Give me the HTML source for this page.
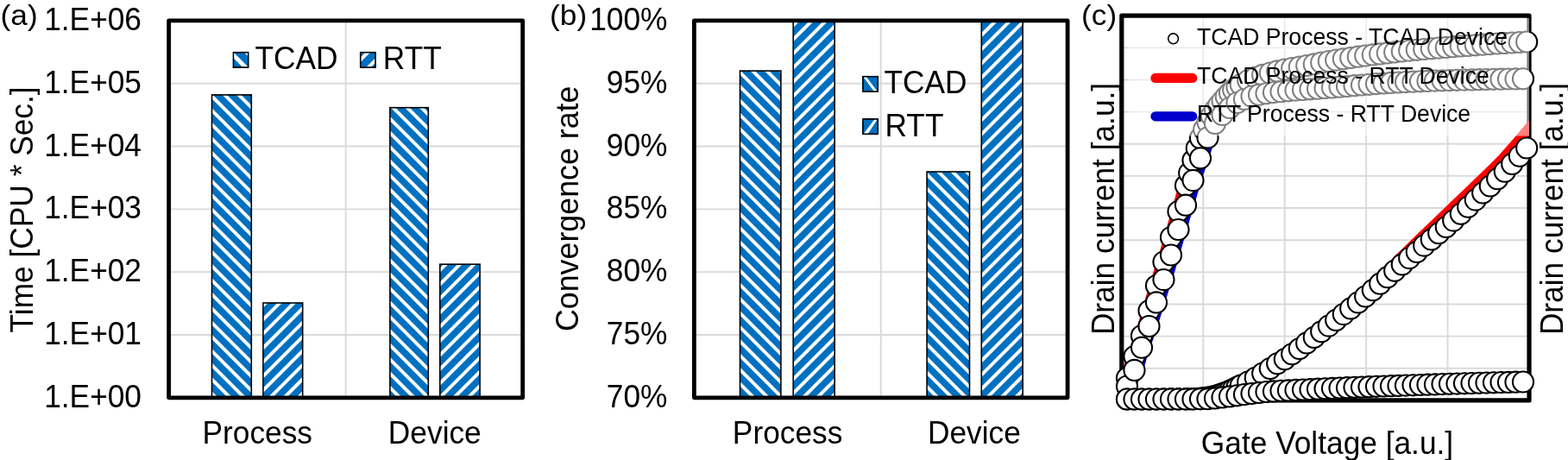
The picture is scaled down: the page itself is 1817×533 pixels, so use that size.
<!DOCTYPE html>
<html><head><meta charset="utf-8"><title>chart</title><style>html,body{margin:0;padding:0;background:#fff;}svg{display:block;}</style></head><body>
<svg width="1817" height="533" viewBox="0 0 1817 533" font-family='"Liberation Sans", Arial, sans-serif' fill="#000">
<defs>
<pattern id="tc" patternUnits="userSpaceOnUse" width="11.597" height="11.597" patternTransform="rotate(-45) translate(0.00,0)"><rect x="0" y="0" width="11.597" height="11.597" fill="#0070C0"/><rect x="0" y="-1" width="3.943" height="13.597" fill="#fff"/></pattern>
<pattern id="rt" patternUnits="userSpaceOnUse" width="11.597" height="11.597" patternTransform="rotate(45) translate(0.00,0)"><rect x="0" y="0" width="11.597" height="11.597" fill="#0070C0"/><rect x="0" y="-1" width="3.943" height="13.597" fill="#fff"/></pattern>
<pattern id="rtb" patternUnits="userSpaceOnUse" width="11.597" height="11.597" patternTransform="rotate(45) translate(-3.90,0)"><rect x="0" y="0" width="11.597" height="11.597" fill="#0070C0"/><rect x="0" y="-1" width="3.943" height="13.597" fill="#fff"/></pattern>
<clipPath id="pc"><rect x="1299.8" y="18.2" width="472.2" height="445.8"/></clipPath>
</defs>
<rect width="1817" height="533" fill="#fff"/>
<line x1="195.6" y1="387.98" x2="605.7" y2="387.98" stroke="#D9D9D9" stroke-width="1.9"/>
<line x1="195.6" y1="315.17" x2="605.7" y2="315.17" stroke="#D9D9D9" stroke-width="1.9"/>
<line x1="195.6" y1="242.35" x2="605.7" y2="242.35" stroke="#D9D9D9" stroke-width="1.9"/>
<line x1="195.6" y1="169.53" x2="605.7" y2="169.53" stroke="#D9D9D9" stroke-width="1.9"/>
<line x1="195.6" y1="96.72" x2="605.7" y2="96.72" stroke="#D9D9D9" stroke-width="1.9"/>
<line x1="400.65" y1="23.9" x2="400.65" y2="460.8" stroke="#D9D9D9" stroke-width="1.9"/>
<rect x="245.50" y="109.90" width="45.80" height="350.90" fill="url(#tc)" stroke="#000" stroke-width="1.6"/>
<rect x="304.90" y="351.00" width="45.80" height="109.80" fill="url(#rt)" stroke="#000" stroke-width="1.6"/>
<rect x="451.90" y="124.70" width="44.40" height="336.10" fill="url(#tc)" stroke="#000" stroke-width="1.6"/>
<rect x="509.80" y="306.20" width="46.30" height="154.60" fill="url(#rt)" stroke="#000" stroke-width="1.6"/>
<rect x="195.6" y="23.9" width="410.10" height="436.90" fill="none" stroke="#000" stroke-width="4.8" stroke-linejoin="round"/>
<svg x="269.50" y="59.80" width="19.1" height="19.1" viewBox="0 0 19.1 19.1" overflow="hidden">
<rect width="19.1" height="19.1" fill="#0070C0"/>
<polygon points="0,-0.3 19.1,18.8 19.1,25.6 0,6.5" fill="#fff"/>
<polygon points="12.5,0 19.1,0 19.1,6.6" fill="#fff"/>
<rect x="0.85" y="0.85" width="17.4" height="17.4" fill="none" stroke="#000" stroke-width="1.7"/>
</svg>
<text transform="translate(295.50 80.00) scale(1 1.04)" font-size="35.3" text-anchor="start">TCAD</text>
<svg x="416.80" y="59.80" width="19.1" height="19.1" viewBox="0 0 19.1 19.1" overflow="hidden">
<rect width="19.1" height="19.1" fill="#0070C0"/>
<polygon points="7.5,0 13.3,0 0,13.3 0,7.5" fill="#fff"/>
<polygon points="19.1,6.4 19.1,12.1 12.1,19.1 6.4,19.1" fill="#fff"/>
<rect x="0.85" y="0.85" width="17.4" height="17.4" fill="none" stroke="#000" stroke-width="1.7"/>
</svg>
<text transform="translate(443.80 80.00) scale(1 1.04)" font-size="35.3" text-anchor="start">RTT</text>
<text transform="translate(164.00 471.80) scale(1 1.04)" font-size="35.3" text-anchor="end">1.E+00</text>
<text transform="translate(164.00 398.98) scale(1 1.04)" font-size="35.3" text-anchor="end">1.E+01</text>
<text transform="translate(164.00 326.17) scale(1 1.04)" font-size="35.3" text-anchor="end">1.E+02</text>
<text transform="translate(164.00 253.35) scale(1 1.04)" font-size="35.3" text-anchor="end">1.E+03</text>
<text transform="translate(164.00 180.53) scale(1 1.04)" font-size="35.3" text-anchor="end">1.E+04</text>
<text transform="translate(164.00 107.72) scale(1 1.04)" font-size="35.3" text-anchor="end">1.E+05</text>
<text transform="translate(164.00 34.90) scale(1 1.04)" font-size="35.3" text-anchor="end">1.E+06</text>
<text transform="translate(0.50 28.50) scale(1 0.925)" font-size="35.3" text-anchor="start">(a)</text>
<text transform="translate(298.20 514.00) scale(1 1.04)" font-size="35.3" text-anchor="middle">Process</text>
<text transform="translate(503.80 514.00) scale(1 1.04)" font-size="35.3" text-anchor="middle">Device</text>
<text transform="translate(38.20 242.90) rotate(-90) scale(1 1.04)" font-size="35.3" text-anchor="middle">Time [CPU * Sec.]</text>
<line x1="804.4" y1="387.98" x2="1237.1" y2="387.98" stroke="#D9D9D9" stroke-width="1.9"/>
<line x1="804.4" y1="315.17" x2="1237.1" y2="315.17" stroke="#D9D9D9" stroke-width="1.9"/>
<line x1="804.4" y1="242.35" x2="1237.1" y2="242.35" stroke="#D9D9D9" stroke-width="1.9"/>
<line x1="804.4" y1="169.53" x2="1237.1" y2="169.53" stroke="#D9D9D9" stroke-width="1.9"/>
<line x1="804.4" y1="96.72" x2="1237.1" y2="96.72" stroke="#D9D9D9" stroke-width="1.9"/>
<line x1="1020.75" y1="23.9" x2="1020.75" y2="460.8" stroke="#D9D9D9" stroke-width="1.9"/>
<rect x="857.50" y="82.10" width="47.40" height="378.70" fill="url(#tc)" stroke="#000" stroke-width="1.6"/>
<rect x="919.20" y="23.90" width="48.00" height="436.90" fill="url(#rtb)" stroke="#000" stroke-width="1.6"/>
<rect x="1074.10" y="199.00" width="49.40" height="261.80" fill="url(#tc)" stroke="#000" stroke-width="1.6"/>
<rect x="1137.30" y="23.90" width="47.90" height="436.90" fill="url(#rtb)" stroke="#000" stroke-width="1.6"/>
<rect x="804.4" y="23.9" width="432.70" height="436.90" fill="none" stroke="#000" stroke-width="4.8" stroke-linejoin="round"/>
<svg x="999.10" y="87.80" width="19.1" height="19.1" viewBox="0 0 19.1 19.1" overflow="hidden">
<rect width="19.1" height="19.1" fill="#0070C0"/>
<polygon points="0.36,0 3.7,0 18.5,19.1 14.5,19.1" fill="#fff"/>
<polygon points="0,15.5 0,19.1 3.0,19.1" fill="#fff"/>
<polygon points="16.5,0 19.1,0 19.1,2.5" fill="#fff"/>
<rect x="0.85" y="0.85" width="17.4" height="17.4" fill="none" stroke="#000" stroke-width="1.7"/>
</svg>
<text transform="translate(1024.50 108.40) scale(1 1.04)" font-size="35.3" text-anchor="start">TCAD</text>
<svg x="999.10" y="137.10" width="19.1" height="19.1" viewBox="0 0 19.1 19.1" overflow="hidden">
<rect width="19.1" height="19.1" fill="#0070C0"/>
<polygon points="0.6,19.1 5.9,19.1 18.5,0 15.3,0" fill="#fff"/>
<polygon points="0,0 4,0 0,4" fill="#fff"/>
<rect x="0.85" y="0.85" width="17.4" height="17.4" fill="none" stroke="#000" stroke-width="1.7"/>
</svg>
<text transform="translate(1025.50 158.00) scale(1 1.04)" font-size="35.3" text-anchor="start">RTT</text>
<text transform="translate(773.50 471.80) scale(1 1.04)" font-size="35.3" text-anchor="end">70%</text>
<text transform="translate(773.50 398.98) scale(1 1.04)" font-size="35.3" text-anchor="end">75%</text>
<text transform="translate(773.50 326.17) scale(1 1.04)" font-size="35.3" text-anchor="end">80%</text>
<text transform="translate(773.50 253.35) scale(1 1.04)" font-size="35.3" text-anchor="end">85%</text>
<text transform="translate(773.50 180.53) scale(1 1.04)" font-size="35.3" text-anchor="end">90%</text>
<text transform="translate(773.50 107.72) scale(1 1.04)" font-size="35.3" text-anchor="end">95%</text>
<text transform="translate(773.50 34.90) scale(1 1.04)" font-size="35.3" text-anchor="end">100%</text>
<text transform="translate(637.00 28.50) scale(1 0.925)" font-size="35.3" text-anchor="start">(b)</text>
<text transform="translate(912.60 514.00) scale(1 1.04)" font-size="35.3" text-anchor="middle">Process</text>
<text transform="translate(1128.90 514.00) scale(1 1.04)" font-size="35.3" text-anchor="middle">Device</text>
<text transform="translate(669.50 241.80) rotate(-90) scale(1 1.04)" font-size="35.8" text-anchor="middle">Convergence rate</text>
<line x1="1299.8" y1="55.34" x2="1772.0" y2="55.34" stroke="#D9D9D9" stroke-width="1.9"/>
<line x1="1299.8" y1="92.48" x2="1772.0" y2="92.48" stroke="#D9D9D9" stroke-width="1.9"/>
<line x1="1299.8" y1="129.62" x2="1772.0" y2="129.62" stroke="#D9D9D9" stroke-width="1.9"/>
<line x1="1299.8" y1="166.77" x2="1772.0" y2="166.77" stroke="#D9D9D9" stroke-width="1.9"/>
<line x1="1299.8" y1="203.91" x2="1772.0" y2="203.91" stroke="#D9D9D9" stroke-width="1.9"/>
<line x1="1299.8" y1="241.05" x2="1772.0" y2="241.05" stroke="#D9D9D9" stroke-width="1.9"/>
<line x1="1299.8" y1="278.19" x2="1772.0" y2="278.19" stroke="#D9D9D9" stroke-width="1.9"/>
<line x1="1299.8" y1="315.33" x2="1772.0" y2="315.33" stroke="#D9D9D9" stroke-width="1.9"/>
<line x1="1299.8" y1="352.47" x2="1772.0" y2="352.47" stroke="#D9D9D9" stroke-width="1.9"/>
<line x1="1299.8" y1="389.62" x2="1772.0" y2="389.62" stroke="#D9D9D9" stroke-width="1.9"/>
<line x1="1299.8" y1="426.76" x2="1772.0" y2="426.76" stroke="#D9D9D9" stroke-width="1.9"/>
<line x1="1394.24" y1="18.2" x2="1394.24" y2="463.9" stroke="#D9D9D9" stroke-width="1.9"/>
<line x1="1488.68" y1="18.2" x2="1488.68" y2="463.9" stroke="#D9D9D9" stroke-width="1.9"/>
<line x1="1583.12" y1="18.2" x2="1583.12" y2="463.9" stroke="#D9D9D9" stroke-width="1.9"/>
<line x1="1677.56" y1="18.2" x2="1677.56" y2="463.9" stroke="#D9D9D9" stroke-width="1.9"/>
<rect x="1299.8" y="18.2" width="472.20" height="445.70" fill="none" stroke="#000" stroke-width="5.2" stroke-linejoin="round"/>
<g clip-path="url(#pc)" fill="none" stroke-linejoin="round" stroke-linecap="round">
<polyline points="1297.5,456.2 1298.7,452.6 1299.9,448.9 1301.1,445.3 1302.3,441.7 1303.5,438.1 1304.6,434.6 1305.8,431.0 1307.0,427.5 1308.2,424.0 1309.4,420.5 1310.6,417.1 1311.8,413.6 1313.0,410.2 1314.2,406.9 1315.4,403.7 1316.5,400.4 1317.7,397.1 1318.9,393.7 1320.1,390.2 1321.3,386.5 1322.5,382.6 1323.7,378.5 1324.9,374.4 1326.1,370.2 1327.3,366.0 1328.5,361.9 1329.6,357.8 1330.8,353.7 1332.0,349.6 1333.2,345.5 1334.4,341.4 1335.6,337.4 1336.8,333.4 1338.0,329.4 1339.2,325.5 1340.4,321.7 1341.5,317.9 1342.7,314.1 1343.9,310.2 1345.1,306.4 1346.3,302.5 1347.5,298.6 1348.7,294.6 1349.9,290.6 1351.1,286.7 1352.3,282.6 1353.5,278.6 1354.6,274.5 1355.8,270.4 1357.0,266.2 1358.2,262.0 1359.4,257.8 1360.6,253.5 1361.8,249.3 1363.0,245.1 1364.2,240.9 1365.4,236.7 1366.5,232.4 1367.7,228.2 1368.9,224.0 1370.1,219.8 1371.3,215.7 1372.5,211.5 1373.7,207.4 1374.9,203.3 1376.1,199.3 1377.3,195.1 1378.5,191.0 1379.6,186.9 1380.8,182.9 1382.0,178.9 1383.2,175.0 1384.4,171.3 1385.6,167.8 1386.8,164.5 1388.0,161.3 1389.2,158.3 1390.4,155.5 1391.5,152.7 1392.7,150.1 1393.9,147.7 1395.1,145.3 1396.3,143.0 1397.5,140.8 1398.7,138.6 1399.9,136.6 1401.1,134.5 1402.3,132.5 1403.5,130.6 1404.6,128.7 1405.8,126.9 1407.0,125.3 1408.2,123.7 1409.4,122.3 1410.6,120.9 1411.8,119.5 1413.0,118.1 1414.2,116.7 1415.4,115.3 1416.5,113.9 1417.7,112.5 1418.9,111.1 1420.1,109.9 1421.3,108.7 1422.5,107.6 1423.7,106.6 1424.9,105.6 1426.1,104.7 1427.3,103.8 1428.5,103.0 1429.6,102.1 1430.8,101.3 1432.0,100.4 1433.2,99.6 1434.4,98.7 1435.6,97.9 1436.8,97.1 1438.0,96.4 1439.2,95.7 1440.4,95.0 1441.5,94.4 1442.7,93.8 1443.9,93.2 1445.1,92.6 1446.3,92.1 1447.5,91.6 1448.7,91.1 1449.9,90.6 1451.1,90.1 1452.3,89.7 1453.5,89.3 1454.6,88.9 1455.8,88.5 1457.0,88.1 1458.2,87.7 1459.4,87.4 1460.6,87.0 1461.8,86.6 1463.0,86.3 1464.2,86.0 1465.4,85.6 1466.5,85.3 1467.7,85.0 1468.9,84.7 1470.1,84.3 1471.3,84.0 1472.5,83.7 1473.7,83.4 1474.9,83.1 1476.1,82.8 1477.3,82.5 1478.5,82.2 1479.6,81.9 1480.8,81.7 1482.0,81.4 1483.2,81.1 1484.4,80.9 1485.6,80.7 1486.8,80.4 1488.0,80.2 1489.2,80.0 1490.4,79.7 1491.5,79.5 1492.7,79.3 1493.9,79.1 1495.1,78.9 1496.3,78.7 1497.5,78.5 1498.7,78.3 1499.9,78.1 1501.1,77.9 1502.3,77.7 1503.5,77.5 1504.6,77.3 1505.8,77.1 1507.0,76.9 1508.2,76.7 1509.4,76.5 1510.6,76.3 1511.8,76.0 1513.0,75.8 1514.2,75.6 1515.4,75.4 1516.5,75.1 1517.7,74.9 1518.9,74.6 1520.1,74.4 1521.3,74.2 1522.5,73.9 1523.7,73.7 1524.9,73.4 1526.1,73.2 1527.3,72.9 1528.5,72.7 1529.6,72.5 1530.8,72.2 1532.0,72.0 1533.2,71.8 1534.4,71.5 1535.6,71.3 1536.8,71.1 1538.0,70.9 1539.2,70.7 1540.4,70.5 1541.5,70.3 1542.7,70.1 1543.9,69.9 1545.1,69.7 1546.3,69.5 1547.5,69.3 1548.7,69.1 1549.9,68.9 1551.1,68.8 1552.3,68.6 1553.5,68.4 1554.6,68.2 1555.8,68.0 1557.0,67.8 1558.2,67.7 1559.4,67.5 1560.6,67.3 1561.8,67.1 1563.0,66.9 1564.2,66.8 1565.4,66.6 1566.5,66.4 1567.7,66.2 1568.9,66.1 1570.1,65.9 1571.3,65.7 1572.5,65.6 1573.7,65.4 1574.9,65.2 1576.1,65.1 1577.3,64.9 1578.5,64.7 1579.6,64.6 1580.8,64.4 1582.0,64.3 1583.2,64.1 1584.4,63.9 1585.6,63.8 1586.8,63.6 1588.0,63.5 1589.2,63.3 1590.4,63.2 1591.5,63.0 1592.7,62.9 1593.9,62.7 1595.1,62.6 1596.3,62.4 1597.5,62.3 1598.7,62.1 1599.9,62.0 1601.1,61.9 1602.3,61.7 1603.5,61.6 1604.6,61.4 1605.8,61.3 1607.0,61.2 1608.2,61.0 1609.4,60.9 1610.6,60.8 1611.8,60.6 1613.0,60.5 1614.2,60.4 1615.4,60.2 1616.5,60.1 1617.7,60.0 1618.9,59.8 1620.1,59.7 1621.3,59.6 1622.5,59.5 1623.7,59.4 1624.9,59.2 1626.1,59.1 1627.3,59.0 1628.5,58.9 1629.6,58.8 1630.8,58.6 1632.0,58.5 1633.2,58.4 1634.4,58.3 1635.6,58.2 1636.8,58.1 1638.0,57.9 1639.2,57.8 1640.4,57.7 1641.5,57.6 1642.7,57.5 1643.9,57.4 1645.1,57.3 1646.3,57.2 1647.5,57.1 1648.7,57.0 1649.9,56.8 1651.1,56.7 1652.3,56.6 1653.5,56.5 1654.6,56.4 1655.8,56.3 1657.0,56.2 1658.2,56.1 1659.4,56.0 1660.6,55.9 1661.8,55.8 1663.0,55.7 1664.2,55.6 1665.4,55.5 1666.5,55.4 1667.7,55.3 1668.9,55.2 1670.1,55.1 1671.3,55.0 1672.5,54.9 1673.7,54.8 1674.9,54.7 1676.1,54.6 1677.3,54.5 1678.5,54.5 1679.6,54.4 1680.8,54.3 1682.0,54.2 1683.2,54.1 1684.4,54.0 1685.6,53.9 1686.8,53.8 1688.0,53.7 1689.2,53.6 1690.4,53.5 1691.5,53.4 1692.7,53.4 1693.9,53.3 1695.1,53.2 1696.3,53.1 1697.5,53.0 1698.7,52.9 1699.9,52.8 1701.1,52.7 1702.3,52.6 1703.5,52.6 1704.6,52.5 1705.8,52.4 1707.0,52.3 1708.2,52.2 1709.4,52.1 1710.6,52.0 1711.8,52.0 1713.0,51.9 1714.2,51.8 1715.4,51.7 1716.5,51.6 1717.7,51.5 1718.9,51.5 1720.1,51.4 1721.3,51.3 1722.5,51.2 1723.7,51.1 1724.9,51.1 1726.1,51.0 1727.3,50.9 1728.5,50.8 1729.6,50.7 1730.8,50.7 1732.0,50.6 1733.2,50.5 1734.4,50.4 1735.6,50.4 1736.8,50.3 1738.0,50.2 1739.2,50.1 1740.4,50.1 1741.5,50.0 1742.7,49.9 1743.9,49.8 1745.1,49.8 1746.3,49.7 1747.5,49.6 1748.7,49.5 1749.9,49.5 1751.1,49.4 1752.3,49.3 1753.5,49.3 1754.6,49.2 1755.8,49.1 1757.0,49.0 1758.2,49.0 1759.4,48.9 1760.6,48.8 1761.8,48.8 1763.0,48.7 1764.2,48.6 1765.4,48.6 1766.5,48.5 1767.7,48.4 1768.9,48.4 1770.1,48.3 1771.3,48.3 1772.5,48.2" stroke="#FF0000" stroke-width="11.3"/>
<polyline points="1297.5,455.8 1298.7,454.5 1299.9,453.1 1301.1,451.5 1302.3,449.7 1303.5,447.7 1304.6,445.5 1305.8,443.2 1307.0,440.7 1308.2,438.1 1309.4,435.3 1310.6,432.4 1311.8,429.4 1313.0,426.3 1314.2,422.8 1315.4,419.1 1316.5,415.3 1317.7,411.4 1318.9,407.6 1320.1,403.9 1321.3,400.3 1322.5,396.8 1323.7,393.4 1324.9,390.1 1326.1,386.7 1327.3,383.2 1328.5,379.7 1329.6,376.0 1330.8,372.2 1332.0,368.4 1333.2,364.4 1334.4,360.5 1335.6,356.6 1336.8,352.7 1338.0,348.9 1339.2,345.2 1340.4,341.5 1341.5,337.9 1342.7,334.3 1343.9,330.6 1345.1,326.9 1346.3,323.1 1347.5,319.2 1348.7,315.3 1349.9,311.3 1351.1,307.2 1352.3,303.2 1353.5,299.1 1354.6,295.0 1355.8,290.9 1357.0,286.8 1358.2,282.6 1359.4,278.4 1360.6,274.3 1361.8,270.2 1363.0,266.1 1364.2,262.1 1365.4,258.1 1366.5,254.1 1367.7,250.2 1368.9,246.2 1370.1,242.3 1371.3,238.3 1372.5,234.3 1373.7,230.3 1374.9,226.2 1376.1,222.1 1377.3,218.1 1378.5,214.1 1379.6,210.2 1380.8,206.5 1382.0,202.7 1383.2,199.1 1384.4,195.4 1385.6,191.9 1386.8,188.3 1388.0,184.8 1389.2,181.3 1390.4,177.8 1391.5,174.2 1392.7,170.7 1393.9,167.3 1395.1,164.1 1396.3,161.0 1397.5,158.3 1398.7,155.6 1399.9,153.1 1401.1,150.7 1402.3,148.4 1403.5,146.3 1404.6,144.3 1405.8,142.5 1407.0,140.9 1408.2,139.4 1409.4,138.0 1410.6,136.6 1411.8,135.3 1413.0,134.1 1414.2,132.8 1415.4,131.6 1416.5,130.4 1417.7,129.2 1418.9,128.1 1420.1,127.0 1421.3,126.0 1422.5,125.0 1423.7,124.1 1424.9,123.1 1426.1,122.2 1427.3,121.4 1428.5,120.6 1429.6,119.8 1430.8,119.1 1432.0,118.4 1433.2,117.8 1434.4,117.2 1435.6,116.7 1436.8,116.2 1438.0,115.6 1439.2,115.1 1440.4,114.6 1441.5,114.1 1442.7,113.6 1443.9,113.1 1445.1,112.6 1446.3,112.2 1447.5,111.7 1448.7,111.4 1449.9,111.1 1451.1,110.8 1452.3,110.5 1453.5,110.3 1454.6,110.0 1455.8,109.8 1457.0,109.6 1458.2,109.4 1459.4,109.1 1460.6,108.9 1461.8,108.8 1463.0,108.6 1464.2,108.4 1465.4,108.2 1466.5,108.0 1467.7,107.9 1468.9,107.7 1470.1,107.6 1471.3,107.4 1472.5,107.3 1473.7,107.1 1474.9,107.0 1476.1,106.9 1477.3,106.7 1478.5,106.6 1479.6,106.5 1480.8,106.3 1482.0,106.2 1483.2,106.1 1484.4,105.9 1485.6,105.8 1486.8,105.7 1488.0,105.6 1489.2,105.5 1490.4,105.3 1491.5,105.2 1492.7,105.1 1493.9,105.0 1495.1,104.9 1496.3,104.8 1497.5,104.7 1498.7,104.6 1499.9,104.5 1501.1,104.4 1502.3,104.3 1503.5,104.2 1504.6,104.1 1505.8,104.0 1507.0,103.9 1508.2,103.8 1509.4,103.8 1510.6,103.7 1511.8,103.6 1513.0,103.5 1514.2,103.4 1515.4,103.3 1516.5,103.2 1517.7,103.1 1518.9,103.1 1520.1,103.0 1521.3,102.9 1522.5,102.8 1523.7,102.7 1524.9,102.6 1526.1,102.6 1527.3,102.5 1528.5,102.4 1529.6,102.3 1530.8,102.2 1532.0,102.1 1533.2,102.0 1534.4,101.9 1535.6,101.9 1536.8,101.8 1538.0,101.7 1539.2,101.6 1540.4,101.5 1541.5,101.4 1542.7,101.3 1543.9,101.2 1545.1,101.1 1546.3,101.0 1547.5,100.9 1548.7,100.8 1549.9,100.7 1551.1,100.6 1552.3,100.5 1553.5,100.4 1554.6,100.3 1555.8,100.2 1557.0,100.1 1558.2,100.0 1559.4,99.9 1560.6,99.8 1561.8,99.7 1563.0,99.6 1564.2,99.5 1565.4,99.4 1566.5,99.3 1567.7,99.2 1568.9,99.1 1570.1,99.0 1571.3,98.9 1572.5,98.8 1573.7,98.7 1574.9,98.6 1576.1,98.5 1577.3,98.4 1578.5,98.3 1579.6,98.2 1580.8,98.1 1582.0,98.0 1583.2,97.9 1584.4,97.8 1585.6,97.7 1586.8,97.6 1588.0,97.5 1589.2,97.4 1590.4,97.3 1591.5,97.2 1592.7,97.1 1593.9,97.0 1595.1,96.9 1596.3,96.8 1597.5,96.8 1598.7,96.7 1599.9,96.6 1601.1,96.5 1602.3,96.4 1603.5,96.3 1604.6,96.3 1605.8,96.2 1607.0,96.1 1608.2,96.0 1609.4,96.0 1610.6,95.9 1611.8,95.8 1613.0,95.7 1614.2,95.7 1615.4,95.6 1616.5,95.5 1617.7,95.5 1618.9,95.4 1620.1,95.4 1621.3,95.3 1622.5,95.3 1623.7,95.2 1624.9,95.1 1626.1,95.1 1627.3,95.0 1628.5,95.0 1629.6,94.9 1630.8,94.9 1632.0,94.8 1633.2,94.7 1634.4,94.7 1635.6,94.6 1636.8,94.6 1638.0,94.5 1639.2,94.5 1640.4,94.4 1641.5,94.4 1642.7,94.3 1643.9,94.3 1645.1,94.2 1646.3,94.2 1647.5,94.1 1648.7,94.1 1649.9,94.0 1651.1,94.0 1652.3,93.9 1653.5,93.9 1654.6,93.8 1655.8,93.8 1657.0,93.8 1658.2,93.7 1659.4,93.7 1660.6,93.6 1661.8,93.6 1663.0,93.5 1664.2,93.5 1665.4,93.5 1666.5,93.4 1667.7,93.4 1668.9,93.3 1670.1,93.3 1671.3,93.3 1672.5,93.2 1673.7,93.2 1674.9,93.1 1676.1,93.1 1677.3,93.1 1678.5,93.0 1679.6,93.0 1680.8,93.0 1682.0,92.9 1683.2,92.9 1684.4,92.8 1685.6,92.8 1686.8,92.8 1688.0,92.7 1689.2,92.7 1690.4,92.7 1691.5,92.7 1692.7,92.6 1693.9,92.6 1695.1,92.6 1696.3,92.5 1697.5,92.5 1698.7,92.5 1699.9,92.4 1701.1,92.4 1702.3,92.4 1703.5,92.4 1704.6,92.3 1705.8,92.3 1707.0,92.3 1708.2,92.2 1709.4,92.2 1710.6,92.2 1711.8,92.2 1713.0,92.1 1714.2,92.1 1715.4,92.1 1716.5,92.1 1717.7,92.0 1718.9,92.0 1720.1,92.0 1721.3,92.0 1722.5,91.9 1723.7,91.9 1724.9,91.9 1726.1,91.9 1727.3,91.8 1728.5,91.8 1729.6,91.8 1730.8,91.8 1732.0,91.7 1733.2,91.7 1734.4,91.7 1735.6,91.7 1736.8,91.7 1738.0,91.6 1739.2,91.6 1740.4,91.6 1741.5,91.6 1742.7,91.6 1743.9,91.5 1745.1,91.5 1746.3,91.5 1747.5,91.5 1748.7,91.5 1749.9,91.5 1751.1,91.4 1752.3,91.4 1753.5,91.4 1754.6,91.4 1755.8,91.4 1757.0,91.4 1758.2,91.3 1759.4,91.3 1760.6,91.3 1761.8,91.3 1763.0,91.3 1764.2,91.3 1765.4,91.3 1766.5,91.3 1767.7,91.3 1768.9,91.2 1770.1,91.2 1771.3,91.2 1772.5,91.2" stroke="#FF0000" stroke-width="11.3"/>
<polyline points="1300.0,462.5 1301.2,462.5 1302.4,462.5 1303.6,462.5 1304.8,462.5 1306.0,462.5 1307.1,462.5 1308.3,462.5 1309.5,462.5 1310.7,462.5 1311.9,462.5 1313.1,462.5 1314.3,462.5 1315.5,462.5 1316.7,462.5 1317.9,462.5 1319.0,462.5 1320.2,462.5 1321.4,462.5 1322.6,462.5 1323.8,462.5 1325.0,462.5 1326.2,462.5 1327.4,462.5 1328.6,462.5 1329.8,462.5 1331.0,462.5 1332.1,462.5 1333.3,462.5 1334.5,462.5 1335.7,462.5 1336.9,462.5 1338.1,462.5 1339.3,462.5 1340.5,462.5 1341.7,462.5 1342.9,462.5 1344.0,462.5 1345.2,462.5 1346.4,462.5 1347.6,462.4 1348.8,462.4 1350.0,462.4 1351.2,462.4 1352.4,462.4 1353.6,462.4 1354.8,462.4 1356.0,462.4 1357.1,462.4 1358.3,462.4 1359.5,462.4 1360.7,462.4 1361.9,462.4 1363.1,462.4 1364.3,462.4 1365.5,462.4 1366.7,462.4 1367.9,462.4 1369.0,462.4 1370.2,462.4 1371.4,462.4 1372.6,462.3 1373.8,462.3 1375.0,462.3 1376.2,462.3 1377.4,462.3 1378.6,462.3 1379.8,462.3 1381.0,462.3 1382.1,462.3 1383.3,462.2 1384.5,462.2 1385.7,462.1 1386.9,462.0 1388.1,461.9 1389.3,461.8 1390.5,461.7 1391.7,461.5 1392.9,461.4 1394.0,461.3 1395.2,461.1 1396.4,461.0 1397.6,460.8 1398.8,460.7 1400.0,460.5 1401.2,460.3 1402.4,460.1 1403.6,459.9 1404.8,459.6 1406.0,459.4 1407.1,459.1 1408.3,458.8 1409.5,458.4 1410.7,458.1 1411.9,457.7 1413.1,457.3 1414.3,457.0 1415.5,456.6 1416.7,456.2 1417.9,455.7 1419.0,455.3 1420.2,454.9 1421.4,454.5 1422.6,454.0 1423.8,453.5 1425.0,452.9 1426.2,452.4 1427.4,451.8 1428.6,451.2 1429.8,450.6 1431.0,450.0 1432.1,449.4 1433.3,448.8 1434.5,448.2 1435.7,447.7 1436.9,447.1 1438.1,446.5 1439.3,445.9 1440.5,445.4 1441.7,444.8 1442.9,444.2 1444.0,443.6 1445.2,443.0 1446.4,442.4 1447.6,441.8 1448.8,441.1 1450.0,440.5 1451.2,439.8 1452.4,439.2 1453.6,438.5 1454.8,437.8 1456.0,437.1 1457.1,436.4 1458.3,435.7 1459.5,434.9 1460.7,434.2 1461.9,433.4 1463.1,432.7 1464.3,432.0 1465.5,431.2 1466.7,430.4 1467.9,429.6 1469.0,428.9 1470.2,428.0 1471.4,427.2 1472.6,426.4 1473.8,425.6 1475.0,424.8 1476.2,424.0 1477.4,423.2 1478.6,422.4 1479.8,421.7 1481.0,420.9 1482.1,420.2 1483.3,419.5 1484.5,418.8 1485.7,418.1 1486.9,417.3 1488.1,416.6 1489.3,415.8 1490.5,415.0 1491.7,414.2 1492.9,413.4 1494.0,412.6 1495.2,411.7 1496.4,410.9 1497.6,410.0 1498.8,409.1 1500.0,408.3 1501.2,407.4 1502.4,406.5 1503.6,405.6 1504.8,404.7 1506.0,403.8 1507.1,402.9 1508.3,402.0 1509.5,401.1 1510.7,400.1 1511.9,399.2 1513.1,398.3 1514.3,397.4 1515.5,396.5 1516.7,395.6 1517.9,394.6 1519.0,393.7 1520.2,392.8 1521.4,391.9 1522.6,391.0 1523.8,390.1 1525.0,389.2 1526.2,388.2 1527.4,387.3 1528.6,386.4 1529.8,385.5 1531.0,384.5 1532.1,383.6 1533.3,382.7 1534.5,381.7 1535.7,380.8 1536.9,379.9 1538.1,378.9 1539.3,378.0 1540.5,377.0 1541.7,375.9 1542.9,374.8 1544.0,373.7 1545.2,372.7 1546.4,371.6 1547.6,370.5 1548.8,369.4 1550.0,368.3 1551.2,367.2 1552.4,366.1 1553.6,365.0 1554.8,363.9 1556.0,362.9 1557.1,361.8 1558.3,360.7 1559.5,359.6 1560.7,358.5 1561.9,357.4 1563.1,356.3 1564.3,355.2 1565.5,354.1 1566.7,353.0 1567.9,351.9 1569.0,350.8 1570.2,349.7 1571.4,348.6 1572.6,347.5 1573.8,346.4 1575.0,345.3 1576.2,344.1 1577.4,343.0 1578.6,341.9 1579.8,340.8 1581.0,339.6 1582.1,338.5 1583.3,337.4 1584.5,336.2 1585.7,335.0 1586.9,333.9 1588.1,332.7 1589.3,331.6 1590.5,330.4 1591.7,329.2 1592.9,328.0 1594.0,326.8 1595.2,325.7 1596.4,324.5 1597.6,323.3 1598.8,322.1 1600.0,320.9 1601.2,319.7 1602.4,318.5 1603.6,317.3 1604.8,316.1 1606.0,314.9 1607.1,313.7 1608.3,312.5 1609.5,311.3 1610.7,310.1 1611.9,308.9 1613.1,307.8 1614.3,306.6 1615.5,305.4 1616.7,304.2 1617.9,303.0 1619.0,301.9 1620.2,300.7 1621.4,299.5 1622.6,298.4 1623.8,297.2 1625.0,296.0 1626.2,294.9 1627.4,293.7 1628.6,292.5 1629.8,291.4 1631.0,290.2 1632.1,289.0 1633.3,287.9 1634.5,286.7 1635.7,285.5 1636.9,284.4 1638.1,283.2 1639.3,282.1 1640.5,280.9 1641.7,279.7 1642.9,278.6 1644.0,277.4 1645.2,276.3 1646.4,275.1 1647.6,274.0 1648.8,272.8 1650.0,271.7 1651.2,270.6 1652.4,269.4 1653.6,268.3 1654.8,267.1 1656.0,266.0 1657.1,264.9 1658.3,263.7 1659.5,262.6 1660.7,261.5 1661.9,260.4 1663.1,259.2 1664.3,258.1 1665.5,257.0 1666.7,255.8 1667.9,254.7 1669.0,253.6 1670.2,252.4 1671.4,251.3 1672.6,250.1 1673.8,249.0 1675.0,247.8 1676.2,246.7 1677.4,245.5 1678.6,244.4 1679.8,243.2 1681.0,242.0 1682.1,240.9 1683.3,239.7 1684.5,238.5 1685.7,237.3 1686.9,236.2 1688.1,235.1 1689.3,234.0 1690.5,232.9 1691.7,231.8 1692.9,230.6 1694.0,229.5 1695.2,228.4 1696.4,227.2 1697.6,226.1 1698.8,224.9 1700.0,223.8 1701.2,222.7 1702.4,221.5 1703.6,220.3 1704.8,219.2 1706.0,218.0 1707.1,216.9 1708.3,215.7 1709.5,214.6 1710.7,213.4 1711.9,212.3 1713.1,211.1 1714.3,210.0 1715.5,208.8 1716.7,207.7 1717.9,206.6 1719.0,205.4 1720.2,204.3 1721.4,203.1 1722.6,202.0 1723.8,200.8 1725.0,199.7 1726.2,198.6 1727.4,197.4 1728.6,196.2 1729.8,195.1 1731.0,193.9 1732.1,192.8 1733.3,191.6 1734.5,190.4 1735.7,189.2 1736.9,188.0 1738.1,186.8 1739.3,185.6 1740.5,184.3 1741.7,183.0 1742.9,181.7 1744.0,180.3 1745.2,179.0 1746.4,177.7 1747.6,176.3 1748.8,175.0 1750.0,173.7 1751.2,172.3 1752.4,170.9 1753.6,169.6 1754.8,168.2 1756.0,166.9 1757.1,165.5 1758.3,164.1 1759.5,162.7 1760.7,161.3 1761.9,159.9 1763.1,158.5 1764.3,157.1 1765.5,155.7 1766.7,154.3 1767.9,152.9 1769.0,151.5 1770.2,150.1 1771.4,148.6 1772.6,147.2 1773.8,145.9 1775.0,144.6" stroke="#FF0000" stroke-width="11.3"/>
<polyline points="1300.0,462.5 1301.2,462.5 1302.4,462.5 1303.6,462.5 1304.8,462.5 1306.0,462.5 1307.1,462.5 1308.3,462.5 1309.5,462.5 1310.7,462.5 1311.9,462.5 1313.1,462.5 1314.3,462.5 1315.5,462.5 1316.7,462.5 1317.9,462.5 1319.0,462.5 1320.2,462.5 1321.4,462.5 1322.6,462.5 1323.8,462.5 1325.0,462.5 1326.2,462.5 1327.4,462.5 1328.6,462.5 1329.8,462.5 1331.0,462.5 1332.1,462.5 1333.3,462.5 1334.5,462.5 1335.7,462.5 1336.9,462.5 1338.1,462.5 1339.3,462.5 1340.5,462.5 1341.7,462.5 1342.9,462.5 1344.0,462.5 1345.2,462.5 1346.4,462.5 1347.6,462.5 1348.8,462.5 1350.0,462.5 1351.2,462.5 1352.4,462.5 1353.6,462.5 1354.8,462.5 1356.0,462.4 1357.1,462.4 1358.3,462.4 1359.5,462.4 1360.7,462.4 1361.9,462.4 1363.1,462.4 1364.3,462.4 1365.5,462.4 1366.7,462.4 1367.9,462.4 1369.0,462.4 1370.2,462.4 1371.4,462.4 1372.6,462.4 1373.8,462.4 1375.0,462.4 1376.2,462.4 1377.4,462.4 1378.6,462.4 1379.8,462.4 1381.0,462.4 1382.1,462.4 1383.3,462.4 1384.5,462.4 1385.7,462.3 1386.9,462.3 1388.1,462.3 1389.3,462.3 1390.5,462.3 1391.7,462.3 1392.9,462.3 1394.0,462.3 1395.2,462.3 1396.4,462.3 1397.6,462.2 1398.8,462.2 1400.0,462.1 1401.2,462.0 1402.4,462.0 1403.6,461.9 1404.8,461.7 1406.0,461.6 1407.1,461.5 1408.3,461.4 1409.5,461.2 1410.7,461.1 1411.9,460.9 1413.1,460.8 1414.3,460.7 1415.5,460.5 1416.7,460.4 1417.9,460.2 1419.0,460.1 1420.2,460.0 1421.4,459.8 1422.6,459.7 1423.8,459.6 1425.0,459.4 1426.2,459.3 1427.4,459.1 1428.6,459.0 1429.8,458.8 1431.0,458.7 1432.1,458.5 1433.3,458.4 1434.5,458.2 1435.7,458.0 1436.9,457.9 1438.1,457.7 1439.3,457.5 1440.5,457.4 1441.7,457.2 1442.9,457.0 1444.0,456.9 1445.2,456.7 1446.4,456.5 1447.6,456.4 1448.8,456.2 1450.0,456.0 1451.2,455.9 1452.4,455.7 1453.6,455.6 1454.8,455.4 1456.0,455.2 1457.1,455.1 1458.3,455.0 1459.5,454.8 1460.7,454.7 1461.9,454.6 1463.1,454.4 1464.3,454.3 1465.5,454.2 1466.7,454.1 1467.9,454.0 1469.0,453.9 1470.2,453.8 1471.4,453.7 1472.6,453.6 1473.8,453.5 1475.0,453.4 1476.2,453.4 1477.4,453.3 1478.6,453.2 1479.8,453.1 1481.0,453.1 1482.1,453.0 1483.3,452.9 1484.5,452.8 1485.7,452.8 1486.9,452.7 1488.1,452.6 1489.3,452.6 1490.5,452.5 1491.7,452.4 1492.9,452.4 1494.0,452.3 1495.2,452.3 1496.4,452.2 1497.6,452.1 1498.8,452.1 1500.0,452.0 1501.2,452.0 1502.4,451.9 1503.6,451.9 1504.8,451.8 1506.0,451.7 1507.1,451.7 1508.3,451.6 1509.5,451.6 1510.7,451.5 1511.9,451.5 1513.1,451.4 1514.3,451.3 1515.5,451.3 1516.7,451.2 1517.9,451.2 1519.0,451.1 1520.2,451.1 1521.4,451.0 1522.6,451.0 1523.8,450.9 1525.0,450.8 1526.2,450.8 1527.4,450.7 1528.6,450.7 1529.8,450.6 1531.0,450.5 1532.1,450.5 1533.3,450.4 1534.5,450.4 1535.7,450.3 1536.9,450.3 1538.1,450.2 1539.3,450.2 1540.5,450.1 1541.7,450.0 1542.9,450.0 1544.0,449.9 1545.2,449.9 1546.4,449.8 1547.6,449.8 1548.8,449.7 1550.0,449.7 1551.2,449.6 1552.4,449.6 1553.6,449.5 1554.8,449.4 1556.0,449.4 1557.1,449.3 1558.3,449.3 1559.5,449.2 1560.7,449.2 1561.9,449.1 1563.1,449.1 1564.3,449.0 1565.5,449.0 1566.7,448.9 1567.9,448.9 1569.0,448.8 1570.2,448.8 1571.4,448.7 1572.6,448.7 1573.8,448.6 1575.0,448.6 1576.2,448.5 1577.4,448.5 1578.6,448.5 1579.8,448.4 1581.0,448.4 1582.1,448.3 1583.3,448.3 1584.5,448.2 1585.7,448.2 1586.9,448.1 1588.1,448.1 1589.3,448.0 1590.5,448.0 1591.7,448.0 1592.9,447.9 1594.0,447.9 1595.2,447.8 1596.4,447.8 1597.6,447.7 1598.8,447.7 1600.0,447.6 1601.2,447.6 1602.4,447.6 1603.6,447.5 1604.8,447.5 1606.0,447.4 1607.1,447.4 1608.3,447.3 1609.5,447.3 1610.7,447.2 1611.9,447.2 1613.1,447.2 1614.3,447.1 1615.5,447.1 1616.7,447.0 1617.9,447.0 1619.0,446.9 1620.2,446.9 1621.4,446.9 1622.6,446.8 1623.8,446.8 1625.0,446.7 1626.2,446.7 1627.4,446.6 1628.6,446.6 1629.8,446.5 1631.0,446.5 1632.1,446.5 1633.3,446.4 1634.5,446.4 1635.7,446.3 1636.9,446.3 1638.1,446.3 1639.3,446.2 1640.5,446.2 1641.7,446.1 1642.9,446.1 1644.0,446.0 1645.2,446.0 1646.4,446.0 1647.6,445.9 1648.8,445.9 1650.0,445.8 1651.2,445.8 1652.4,445.8 1653.6,445.7 1654.8,445.7 1656.0,445.6 1657.1,445.6 1658.3,445.6 1659.5,445.5 1660.7,445.5 1661.9,445.4 1663.1,445.4 1664.3,445.4 1665.5,445.3 1666.7,445.3 1667.9,445.2 1669.0,445.2 1670.2,445.2 1671.4,445.1 1672.6,445.1 1673.8,445.0 1675.0,445.0 1676.2,445.0 1677.4,444.9 1678.6,444.9 1679.8,444.8 1681.0,444.8 1682.1,444.8 1683.3,444.7 1684.5,444.7 1685.7,444.7 1686.9,444.6 1688.1,444.6 1689.3,444.5 1690.5,444.5 1691.7,444.5 1692.9,444.4 1694.0,444.4 1695.2,444.4 1696.4,444.3 1697.6,444.3 1698.8,444.3 1700.0,444.2 1701.2,444.2 1702.4,444.1 1703.6,444.1 1704.8,444.1 1706.0,444.0 1707.1,444.0 1708.3,444.0 1709.5,443.9 1710.7,443.9 1711.9,443.9 1713.1,443.8 1714.3,443.8 1715.5,443.8 1716.7,443.7 1717.9,443.7 1719.0,443.7 1720.2,443.6 1721.4,443.6 1722.6,443.6 1723.8,443.5 1725.0,443.5 1726.2,443.5 1727.4,443.4 1728.6,443.4 1729.8,443.4 1731.0,443.3 1732.1,443.3 1733.3,443.3 1734.5,443.2 1735.7,443.2 1736.9,443.2 1738.1,443.1 1739.3,443.1 1740.5,443.1 1741.7,443.1 1742.9,443.0 1744.0,443.0 1745.2,443.0 1746.4,442.9 1747.6,442.9 1748.8,442.9 1750.0,442.8 1751.2,442.8 1752.4,442.8 1753.6,442.8 1754.8,442.7 1756.0,442.7 1757.1,442.7 1758.3,442.7 1759.5,442.6 1760.7,442.6 1761.9,442.6 1763.1,442.5 1764.3,442.5 1765.5,442.5 1766.7,442.5 1767.9,442.4 1769.0,442.4 1770.2,442.4 1771.4,442.4 1772.6,442.3 1773.8,442.3 1775.0,442.3" stroke="#FF0000" stroke-width="11.3"/>
<polyline points="1304.0,456.2 1305.2,452.6 1306.4,448.9 1307.6,445.3 1308.8,441.7 1310.0,438.1 1311.1,434.6 1312.3,431.0 1313.5,427.5 1314.7,424.0 1315.9,420.5 1317.1,417.1 1318.3,413.6 1319.5,410.2 1320.7,406.9 1321.9,403.7 1323.0,400.4 1324.2,397.1 1325.4,393.7 1326.6,390.2 1327.8,386.5 1329.0,382.6 1330.2,378.5 1331.4,374.4 1332.6,370.2 1333.8,366.0 1335.0,361.9 1336.1,357.8 1337.3,353.7 1338.5,349.6 1339.7,345.5 1340.9,341.4 1342.1,337.4 1343.3,333.4 1344.5,329.4 1345.7,325.5 1346.9,321.7 1348.0,317.9 1349.2,314.1 1350.4,310.2 1351.6,306.4 1352.8,302.5 1354.0,298.6 1355.2,294.6 1356.4,290.6 1357.6,286.7 1358.8,282.6 1360.0,278.6 1361.1,274.5 1362.3,270.4 1363.5,266.2 1364.7,262.0 1365.9,257.8 1367.1,253.5 1368.3,249.3 1369.5,245.1 1370.7,240.9 1371.9,236.7 1373.0,232.4 1374.2,228.2 1375.4,224.0 1376.6,219.8 1377.8,215.7 1379.0,211.5 1380.2,207.4 1381.4,203.3 1382.6,199.3 1383.8,195.1 1385.0,191.0 1386.1,186.9 1387.3,182.9 1388.5,178.9 1389.7,175.0 1390.9,171.3 1392.1,167.8 1393.3,164.5 1394.5,161.3 1395.7,158.3 1396.9,155.5 1398.0,152.7 1399.2,150.1 1400.4,147.7 1401.6,145.3 1402.8,143.0 1404.0,140.8 1405.2,138.6 1406.4,136.6 1407.6,134.5 1408.8,132.5 1410.0,130.6 1411.1,128.7 1412.3,126.9 1413.5,125.3 1414.7,123.7 1415.9,122.3 1417.1,120.9 1418.3,119.5 1419.5,118.1 1420.7,116.7 1421.9,115.3 1423.0,113.9 1424.2,112.5 1425.4,111.1 1426.6,109.9 1427.8,108.7 1429.0,107.6 1430.2,106.6 1431.4,105.6 1432.6,104.7 1433.8,103.8 1435.0,103.0 1436.1,102.1 1437.3,101.3 1438.5,100.4 1439.7,99.6 1440.9,98.7 1442.1,97.9 1443.3,97.1 1444.5,96.4 1445.7,95.7 1446.9,95.0 1448.0,94.4 1449.2,93.8 1450.4,93.2 1451.6,92.6 1452.8,92.1 1454.0,91.6 1455.2,91.1 1456.4,90.6 1457.6,90.1 1458.8,89.7 1460.0,89.3 1461.1,88.9 1462.3,88.5 1463.5,88.1 1464.7,87.7 1465.9,87.4 1467.1,87.0 1468.3,86.6 1469.5,86.3 1470.7,86.0 1471.9,85.6 1473.0,85.3 1474.2,85.0 1475.4,84.7 1476.6,84.3 1477.8,84.0 1479.0,83.7 1480.2,83.4 1481.4,83.1 1482.6,82.8 1483.8,82.5 1485.0,82.2 1486.1,81.9 1487.3,81.7 1488.5,81.4 1489.7,81.1 1490.9,80.9 1492.1,80.7 1493.3,80.4 1494.5,80.2 1495.7,80.0 1496.9,79.7 1498.0,79.5 1499.2,79.3 1500.4,79.1 1501.6,78.9 1502.8,78.7 1504.0,78.5 1505.2,78.3 1506.4,78.1 1507.6,77.9 1508.8,77.7 1510.0,77.5 1511.1,77.3 1512.3,77.1 1513.5,76.9 1514.7,76.7 1515.9,76.5 1517.1,76.3 1518.3,76.0 1519.5,75.8 1520.7,75.6 1521.9,75.4 1523.0,75.1 1524.2,74.9 1525.4,74.6 1526.6,74.4 1527.8,74.2 1529.0,73.9 1530.2,73.7 1531.4,73.4 1532.6,73.2 1533.8,72.9 1535.0,72.7 1536.1,72.5 1537.3,72.2 1538.5,72.0 1539.7,71.8 1540.9,71.5 1542.1,71.3 1543.3,71.1 1544.5,70.9 1545.7,70.7 1546.9,70.5 1548.0,70.3 1549.2,70.1 1550.4,69.9 1551.6,69.7 1552.8,69.5 1554.0,69.3 1555.2,69.1 1556.4,68.9 1557.6,68.8 1558.8,68.6 1560.0,68.4 1561.1,68.2 1562.3,68.0 1563.5,67.8 1564.7,67.7 1565.9,67.5 1567.1,67.3 1568.3,67.1 1569.5,66.9 1570.7,66.8 1571.9,66.6 1573.0,66.4 1574.2,66.2 1575.4,66.1 1576.6,65.9 1577.8,65.7 1579.0,65.6 1580.2,65.4 1581.4,65.2 1582.6,65.1 1583.8,64.9 1585.0,64.7 1586.1,64.6 1587.3,64.4 1588.5,64.3 1589.7,64.1 1590.9,63.9 1592.1,63.8 1593.3,63.6 1594.5,63.5 1595.7,63.3 1596.9,63.2 1598.0,63.0 1599.2,62.9 1600.4,62.7 1601.6,62.6 1602.8,62.4 1604.0,62.3 1605.2,62.1 1606.4,62.0 1607.6,61.9 1608.8,61.7 1610.0,61.6 1611.1,61.4 1612.3,61.3 1613.5,61.2 1614.7,61.0 1615.9,60.9 1617.1,60.8 1618.3,60.6 1619.5,60.5 1620.7,60.4 1621.9,60.2 1623.0,60.1 1624.2,60.0 1625.4,59.8 1626.6,59.7 1627.8,59.6 1629.0,59.5 1630.2,59.4 1631.4,59.2 1632.6,59.1 1633.8,59.0 1635.0,58.9 1636.1,58.8 1637.3,58.6 1638.5,58.5 1639.7,58.4 1640.9,58.3 1642.1,58.2 1643.3,58.1 1644.5,57.9 1645.7,57.8 1646.9,57.7 1648.0,57.6 1649.2,57.5 1650.4,57.4 1651.6,57.3 1652.8,57.2 1654.0,57.1 1655.2,57.0 1656.4,56.8 1657.6,56.7 1658.8,56.6 1660.0,56.5 1661.1,56.4 1662.3,56.3 1663.5,56.2 1664.7,56.1 1665.9,56.0 1667.1,55.9 1668.3,55.8 1669.5,55.7 1670.7,55.6 1671.9,55.5 1673.0,55.4 1674.2,55.3 1675.4,55.2 1676.6,55.1 1677.8,55.0 1679.0,54.9 1680.2,54.8 1681.4,54.7 1682.6,54.6 1683.8,54.5 1685.0,54.5 1686.1,54.4 1687.3,54.3 1688.5,54.2 1689.7,54.1 1690.9,54.0 1692.1,53.9 1693.3,53.8 1694.5,53.7 1695.7,53.6 1696.9,53.5 1698.0,53.4 1699.2,53.4 1700.4,53.3 1701.6,53.2 1702.8,53.1 1704.0,53.0 1705.2,52.9 1706.4,52.8 1707.6,52.7 1708.8,52.6 1710.0,52.6 1711.1,52.5 1712.3,52.4 1713.5,52.3 1714.7,52.2 1715.9,52.1 1717.1,52.0 1718.3,52.0 1719.5,51.9 1720.7,51.8 1721.9,51.7 1723.0,51.6 1724.2,51.5 1725.4,51.5 1726.6,51.4 1727.8,51.3 1729.0,51.2 1730.2,51.1 1731.4,51.1 1732.6,51.0 1733.8,50.9 1735.0,50.8 1736.1,50.7 1737.3,50.7 1738.5,50.6 1739.7,50.5 1740.9,50.4 1742.1,50.4 1743.3,50.3 1744.5,50.2 1745.7,50.1 1746.9,50.1 1748.0,50.0 1749.2,49.9 1750.4,49.8 1751.6,49.8 1752.8,49.7 1754.0,49.6 1755.2,49.5 1756.4,49.5 1757.6,49.4 1758.8,49.3 1760.0,49.3 1761.1,49.2 1762.3,49.1 1763.5,49.0 1764.7,49.0 1765.9,48.9 1767.1,48.8 1768.3,48.8 1769.5,48.7 1770.7,48.6 1771.9,48.6 1773.0,48.5 1774.2,48.4 1775.4,48.4 1776.6,48.3 1777.8,48.3 1779.0,48.2" stroke="#0000CC" stroke-width="11.3"/>
<polyline points="1304.0,455.8 1305.2,454.5 1306.4,453.1 1307.6,451.5 1308.8,449.7 1310.0,447.7 1311.1,445.5 1312.3,443.2 1313.5,440.7 1314.7,438.1 1315.9,435.3 1317.1,432.4 1318.3,429.4 1319.5,426.3 1320.7,422.8 1321.9,419.1 1323.0,415.3 1324.2,411.4 1325.4,407.6 1326.6,403.9 1327.8,400.3 1329.0,396.8 1330.2,393.4 1331.4,390.1 1332.6,386.7 1333.8,383.2 1335.0,379.7 1336.1,376.0 1337.3,372.2 1338.5,368.4 1339.7,364.4 1340.9,360.5 1342.1,356.6 1343.3,352.7 1344.5,348.9 1345.7,345.2 1346.9,341.5 1348.0,337.9 1349.2,334.3 1350.4,330.6 1351.6,326.9 1352.8,323.1 1354.0,319.2 1355.2,315.3 1356.4,311.3 1357.6,307.2 1358.8,303.2 1360.0,299.1 1361.1,295.0 1362.3,290.9 1363.5,286.8 1364.7,282.6 1365.9,278.4 1367.1,274.3 1368.3,270.2 1369.5,266.1 1370.7,262.1 1371.9,258.1 1373.0,254.1 1374.2,250.2 1375.4,246.2 1376.6,242.3 1377.8,238.3 1379.0,234.3 1380.2,230.3 1381.4,226.2 1382.6,222.1 1383.8,218.1 1385.0,214.1 1386.1,210.2 1387.3,206.5 1388.5,202.7 1389.7,199.1 1390.9,195.4 1392.1,191.9 1393.3,188.3 1394.5,184.8 1395.7,181.3 1396.9,177.8 1398.0,174.2 1399.2,170.7 1400.4,167.3 1401.6,164.1 1402.8,161.0 1404.0,158.3 1405.2,155.6 1406.4,153.1 1407.6,150.7 1408.8,148.4 1410.0,146.3 1411.1,144.3 1412.3,142.5 1413.5,140.9 1414.7,139.4 1415.9,138.0 1417.1,136.6 1418.3,135.3 1419.5,134.1 1420.7,132.8 1421.9,131.6 1423.0,130.4 1424.2,129.2 1425.4,128.1 1426.6,127.0 1427.8,126.0 1429.0,125.0 1430.2,124.1 1431.4,123.1 1432.6,122.2 1433.8,121.4 1435.0,120.6 1436.1,119.8 1437.3,119.1 1438.5,118.4 1439.7,117.8 1440.9,117.2 1442.1,116.7 1443.3,116.2 1444.5,115.6 1445.7,115.1 1446.9,114.6 1448.0,114.1 1449.2,113.6 1450.4,113.1 1451.6,112.6 1452.8,112.2 1454.0,111.7 1455.2,111.4 1456.4,111.1 1457.6,110.8 1458.8,110.5 1460.0,110.3 1461.1,110.0 1462.3,109.8 1463.5,109.6 1464.7,109.4 1465.9,109.1 1467.1,108.9 1468.3,108.8 1469.5,108.6 1470.7,108.4 1471.9,108.2 1473.0,108.0 1474.2,107.9 1475.4,107.7 1476.6,107.6 1477.8,107.4 1479.0,107.3 1480.2,107.1 1481.4,107.0 1482.6,106.9 1483.8,106.7 1485.0,106.6 1486.1,106.5 1487.3,106.3 1488.5,106.2 1489.7,106.1 1490.9,105.9 1492.1,105.8 1493.3,105.7 1494.5,105.6 1495.7,105.5 1496.9,105.3 1498.0,105.2 1499.2,105.1 1500.4,105.0 1501.6,104.9 1502.8,104.8 1504.0,104.7 1505.2,104.6 1506.4,104.5 1507.6,104.4 1508.8,104.3 1510.0,104.2 1511.1,104.1 1512.3,104.0 1513.5,103.9 1514.7,103.8 1515.9,103.8 1517.1,103.7 1518.3,103.6 1519.5,103.5 1520.7,103.4 1521.9,103.3 1523.0,103.2 1524.2,103.1 1525.4,103.1 1526.6,103.0 1527.8,102.9 1529.0,102.8 1530.2,102.7 1531.4,102.6 1532.6,102.6 1533.8,102.5 1535.0,102.4 1536.1,102.3 1537.3,102.2 1538.5,102.1 1539.7,102.0 1540.9,101.9 1542.1,101.9 1543.3,101.8 1544.5,101.7 1545.7,101.6 1546.9,101.5 1548.0,101.4 1549.2,101.3 1550.4,101.2 1551.6,101.1 1552.8,101.0 1554.0,100.9 1555.2,100.8 1556.4,100.7 1557.6,100.6 1558.8,100.5 1560.0,100.4 1561.1,100.3 1562.3,100.2 1563.5,100.1 1564.7,100.0 1565.9,99.9 1567.1,99.8 1568.3,99.7 1569.5,99.6 1570.7,99.5 1571.9,99.4 1573.0,99.3 1574.2,99.2 1575.4,99.1 1576.6,99.0 1577.8,98.9 1579.0,98.8 1580.2,98.7 1581.4,98.6 1582.6,98.5 1583.8,98.4 1585.0,98.3 1586.1,98.2 1587.3,98.1 1588.5,98.0 1589.7,97.9 1590.9,97.8 1592.1,97.7 1593.3,97.6 1594.5,97.5 1595.7,97.4 1596.9,97.3 1598.0,97.2 1599.2,97.1 1600.4,97.0 1601.6,96.9 1602.8,96.8 1604.0,96.8 1605.2,96.7 1606.4,96.6 1607.6,96.5 1608.8,96.4 1610.0,96.3 1611.1,96.3 1612.3,96.2 1613.5,96.1 1614.7,96.0 1615.9,96.0 1617.1,95.9 1618.3,95.8 1619.5,95.7 1620.7,95.7 1621.9,95.6 1623.0,95.5 1624.2,95.5 1625.4,95.4 1626.6,95.4 1627.8,95.3 1629.0,95.3 1630.2,95.2 1631.4,95.1 1632.6,95.1 1633.8,95.0 1635.0,95.0 1636.1,94.9 1637.3,94.9 1638.5,94.8 1639.7,94.7 1640.9,94.7 1642.1,94.6 1643.3,94.6 1644.5,94.5 1645.7,94.5 1646.9,94.4 1648.0,94.4 1649.2,94.3 1650.4,94.3 1651.6,94.2 1652.8,94.2 1654.0,94.1 1655.2,94.1 1656.4,94.0 1657.6,94.0 1658.8,93.9 1660.0,93.9 1661.1,93.8 1662.3,93.8 1663.5,93.8 1664.7,93.7 1665.9,93.7 1667.1,93.6 1668.3,93.6 1669.5,93.5 1670.7,93.5 1671.9,93.5 1673.0,93.4 1674.2,93.4 1675.4,93.3 1676.6,93.3 1677.8,93.3 1679.0,93.2 1680.2,93.2 1681.4,93.1 1682.6,93.1 1683.8,93.1 1685.0,93.0 1686.1,93.0 1687.3,93.0 1688.5,92.9 1689.7,92.9 1690.9,92.8 1692.1,92.8 1693.3,92.8 1694.5,92.7 1695.7,92.7 1696.9,92.7 1698.0,92.7 1699.2,92.6 1700.4,92.6 1701.6,92.6 1702.8,92.5 1704.0,92.5 1705.2,92.5 1706.4,92.4 1707.6,92.4 1708.8,92.4 1710.0,92.4 1711.1,92.3 1712.3,92.3 1713.5,92.3 1714.7,92.2 1715.9,92.2 1717.1,92.2 1718.3,92.2 1719.5,92.1 1720.7,92.1 1721.9,92.1 1723.0,92.1 1724.2,92.0 1725.4,92.0 1726.6,92.0 1727.8,92.0 1729.0,91.9 1730.2,91.9 1731.4,91.9 1732.6,91.9 1733.8,91.8 1735.0,91.8 1736.1,91.8 1737.3,91.8 1738.5,91.7 1739.7,91.7 1740.9,91.7 1742.1,91.7 1743.3,91.7 1744.5,91.6 1745.7,91.6 1746.9,91.6 1748.0,91.6 1749.2,91.6 1750.4,91.5 1751.6,91.5 1752.8,91.5 1754.0,91.5 1755.2,91.5 1756.4,91.5 1757.6,91.4 1758.8,91.4 1760.0,91.4 1761.1,91.4 1762.3,91.4 1763.5,91.4 1764.7,91.3 1765.9,91.3 1767.1,91.3 1768.3,91.3 1769.5,91.3 1770.7,91.3 1771.9,91.3 1773.0,91.3 1774.2,91.3 1775.4,91.2 1776.6,91.2 1777.8,91.2 1779.0,91.2" stroke="#0000CC" stroke-width="11.3"/>
<polyline points="1300.0,462.5 1301.2,462.5 1302.4,462.5 1303.6,462.5 1304.8,462.5 1306.0,462.5 1307.1,462.5 1308.3,462.5 1309.5,462.5 1310.7,462.5 1311.9,462.5 1313.1,462.5 1314.3,462.5 1315.5,462.5 1316.7,462.5 1317.9,462.5 1319.0,462.5 1320.2,462.5 1321.4,462.5 1322.6,462.5 1323.8,462.5 1325.0,462.5 1326.2,462.5 1327.4,462.5 1328.6,462.5 1329.8,462.5 1331.0,462.5 1332.1,462.5 1333.3,462.5 1334.5,462.5 1335.7,462.5 1336.9,462.5 1338.1,462.5 1339.3,462.5 1340.5,462.5 1341.7,462.5 1342.9,462.5 1344.0,462.5 1345.2,462.5 1346.4,462.5 1347.6,462.4 1348.8,462.4 1350.0,462.4 1351.2,462.4 1352.4,462.4 1353.6,462.4 1354.8,462.4 1356.0,462.4 1357.1,462.4 1358.3,462.4 1359.5,462.4 1360.7,462.4 1361.9,462.4 1363.1,462.4 1364.3,462.4 1365.5,462.4 1366.7,462.4 1367.9,462.4 1369.0,462.4 1370.2,462.4 1371.4,462.4 1372.6,462.3 1373.8,462.3 1375.0,462.3 1376.2,462.3 1377.4,462.3 1378.6,462.3 1379.8,462.3 1381.0,462.3 1382.1,462.3 1383.3,462.2 1384.5,462.2 1385.7,462.1 1386.9,462.0 1388.1,461.9 1389.3,461.8 1390.5,461.7 1391.7,461.5 1392.9,461.4 1394.0,461.3 1395.2,461.1 1396.4,461.0 1397.6,460.8 1398.8,460.7 1400.0,460.5 1401.2,460.3 1402.4,460.1 1403.6,459.9 1404.8,459.6 1406.0,459.4 1407.1,459.1 1408.3,458.8 1409.5,458.4 1410.7,458.1 1411.9,457.7 1413.1,457.3 1414.3,457.0 1415.5,456.6 1416.7,456.2 1417.9,455.7 1419.0,455.3 1420.2,454.9 1421.4,454.5 1422.6,454.0 1423.8,453.5 1425.0,452.9 1426.2,452.4 1427.4,451.8 1428.6,451.2 1429.8,450.6 1431.0,450.0 1432.1,449.4 1433.3,448.8 1434.5,448.2 1435.7,447.7 1436.9,447.1 1438.1,446.5 1439.3,445.9 1440.5,445.4 1441.7,444.8 1442.9,444.2 1444.0,443.6 1445.2,443.0 1446.4,442.4 1447.6,441.8 1448.8,441.1 1450.0,440.5 1451.2,439.8 1452.4,439.2 1453.6,438.5 1454.8,437.8 1456.0,437.1 1457.1,436.4 1458.3,435.7 1459.5,434.9 1460.7,434.2 1461.9,433.4 1463.1,432.7 1464.3,432.0 1465.5,431.2 1466.7,430.4 1467.9,429.6 1469.0,428.9 1470.2,428.0 1471.4,427.2 1472.6,426.4 1473.8,425.6 1475.0,424.8 1476.2,424.0 1477.4,423.2 1478.6,422.4 1479.8,421.7 1481.0,420.9 1482.1,420.2 1483.3,419.5 1484.5,418.8 1485.7,418.1 1486.9,417.3 1488.1,416.6 1489.3,415.8 1490.5,415.0 1491.7,414.2 1492.9,413.4 1494.0,412.6 1495.2,411.7 1496.4,410.9 1497.6,410.0 1498.8,409.1 1500.0,408.3 1501.2,407.4 1502.4,406.5 1503.6,405.6 1504.8,404.7 1506.0,403.8 1507.1,402.9 1508.3,402.0 1509.5,401.1 1510.7,400.1 1511.9,399.2 1513.1,398.3 1514.3,397.4 1515.5,396.5 1516.7,395.6 1517.9,394.6 1519.0,393.7 1520.2,392.8 1521.4,391.9 1522.6,391.0 1523.8,390.1 1525.0,389.2 1526.2,388.2 1527.4,387.3 1528.6,386.4 1529.8,385.5 1531.0,384.5 1532.1,383.6 1533.3,382.7 1534.5,381.7 1535.7,380.8 1536.9,379.9 1538.1,378.9 1539.3,378.0 1540.5,377.1 1541.7,376.1 1542.9,375.2 1544.0,374.2 1545.2,373.3 1546.4,372.3 1547.6,371.4 1548.8,370.4 1550.0,369.5 1551.2,368.6 1552.4,367.6 1553.6,366.7 1554.8,365.7 1556.0,364.8 1557.1,363.8 1558.3,362.9 1559.5,361.9 1560.7,361.0 1561.9,360.0 1563.1,359.1 1564.3,358.1 1565.5,357.2 1566.7,356.2 1567.9,355.3 1569.0,354.3 1570.2,353.3 1571.4,352.4 1572.6,351.4 1573.8,350.4 1575.0,349.5 1576.2,348.5 1577.4,347.5 1578.6,346.5 1579.8,345.5 1581.0,344.5 1582.1,343.6 1583.3,342.6 1584.5,341.5 1585.7,340.5 1586.9,339.5 1588.1,338.5 1589.3,337.5 1590.5,336.4 1591.7,335.4 1592.9,334.4 1594.0,333.3 1595.2,332.3 1596.4,331.2 1597.6,330.2 1598.8,329.1 1600.0,328.1 1601.2,327.0 1602.4,326.0 1603.6,324.9 1604.8,323.9 1606.0,322.8 1607.1,321.8 1608.3,320.7 1609.5,319.7 1610.7,318.6 1611.9,317.6 1613.1,316.5 1614.3,315.5 1615.5,314.5 1616.7,313.4 1617.9,312.4 1619.0,311.4 1620.2,310.3 1621.4,309.3 1622.6,308.3 1623.8,307.3 1625.0,306.2 1626.2,305.2 1627.4,304.2 1628.6,303.2 1629.8,302.1 1631.0,301.1 1632.1,300.1 1633.3,299.1 1634.5,298.0 1635.7,297.0 1636.9,296.0 1638.1,295.0 1639.3,294.0 1640.5,292.9 1641.7,291.9 1642.9,290.9 1644.0,289.9 1645.2,288.9 1646.4,287.8 1647.6,286.8 1648.8,285.8 1650.0,284.8 1651.2,283.8 1652.4,282.8 1653.6,281.8 1654.8,280.8 1656.0,279.7 1657.1,278.7 1658.3,277.7 1659.5,276.7 1660.7,275.7 1661.9,274.7 1663.1,273.7 1664.3,272.7 1665.5,271.7 1666.7,270.7 1667.9,269.7 1669.0,268.7 1670.2,267.7 1671.4,266.7 1672.6,265.7 1673.8,264.7 1675.0,263.7 1676.2,262.6 1677.4,261.6 1678.6,260.6 1679.8,259.5 1681.0,258.5 1682.1,257.4 1683.3,256.4 1684.5,255.3 1685.7,254.3 1686.9,253.2 1688.1,252.1 1689.3,251.0 1690.5,249.9 1691.7,248.8 1692.9,247.7 1694.0,246.6 1695.2,245.5 1696.4,244.4 1697.6,243.2 1698.8,242.1 1700.0,241.0 1701.2,239.8 1702.4,238.7 1703.6,237.5 1704.8,236.4 1706.0,235.3 1707.1,234.1 1708.3,233.0 1709.5,231.8 1710.7,230.7 1711.9,229.6 1713.1,228.4 1714.3,227.3 1715.5,226.2 1716.7,225.0 1717.9,223.9 1719.0,222.8 1720.2,221.7 1721.4,220.5 1722.6,219.4 1723.8,218.3 1725.0,217.1 1726.2,216.0 1727.4,214.9 1728.6,213.7 1729.8,212.6 1731.0,211.4 1732.1,210.3 1733.3,209.1 1734.5,208.0 1735.7,206.8 1736.9,205.6 1738.1,204.4 1739.3,203.2 1740.5,202.0 1741.7,200.8 1742.9,199.6 1744.0,198.4 1745.2,197.2 1746.4,195.9 1747.6,194.7 1748.8,193.5 1750.0,192.2 1751.2,191.0 1752.4,189.7 1753.6,188.5 1754.8,187.2 1756.0,185.9 1757.1,184.7 1758.3,183.4 1759.5,182.1 1760.7,180.8 1761.9,179.6 1763.1,178.3 1764.3,177.0 1765.5,175.7 1766.7,174.4 1767.9,173.0 1769.0,171.7 1770.2,170.4 1771.4,169.1 1772.6,167.7 1773.8,166.4 1775.0,165.1" stroke="#0000CC" stroke-width="11.3"/>
<polyline points="1300.0,462.5 1301.2,462.5 1302.4,462.5 1303.6,462.5 1304.8,462.5 1306.0,462.5 1307.1,462.5 1308.3,462.5 1309.5,462.5 1310.7,462.5 1311.9,462.5 1313.1,462.5 1314.3,462.5 1315.5,462.5 1316.7,462.5 1317.9,462.5 1319.0,462.5 1320.2,462.5 1321.4,462.5 1322.6,462.5 1323.8,462.5 1325.0,462.5 1326.2,462.5 1327.4,462.5 1328.6,462.5 1329.8,462.5 1331.0,462.5 1332.1,462.5 1333.3,462.5 1334.5,462.5 1335.7,462.5 1336.9,462.5 1338.1,462.5 1339.3,462.5 1340.5,462.5 1341.7,462.5 1342.9,462.5 1344.0,462.5 1345.2,462.5 1346.4,462.5 1347.6,462.5 1348.8,462.5 1350.0,462.5 1351.2,462.5 1352.4,462.5 1353.6,462.5 1354.8,462.5 1356.0,462.4 1357.1,462.4 1358.3,462.4 1359.5,462.4 1360.7,462.4 1361.9,462.4 1363.1,462.4 1364.3,462.4 1365.5,462.4 1366.7,462.4 1367.9,462.4 1369.0,462.4 1370.2,462.4 1371.4,462.4 1372.6,462.4 1373.8,462.4 1375.0,462.4 1376.2,462.4 1377.4,462.4 1378.6,462.4 1379.8,462.4 1381.0,462.4 1382.1,462.4 1383.3,462.4 1384.5,462.4 1385.7,462.3 1386.9,462.3 1388.1,462.3 1389.3,462.3 1390.5,462.3 1391.7,462.3 1392.9,462.3 1394.0,462.3 1395.2,462.3 1396.4,462.3 1397.6,462.2 1398.8,462.2 1400.0,462.1 1401.2,462.0 1402.4,462.0 1403.6,461.9 1404.8,461.7 1406.0,461.6 1407.1,461.5 1408.3,461.4 1409.5,461.2 1410.7,461.1 1411.9,460.9 1413.1,460.8 1414.3,460.7 1415.5,460.5 1416.7,460.4 1417.9,460.2 1419.0,460.1 1420.2,460.0 1421.4,459.8 1422.6,459.7 1423.8,459.6 1425.0,459.4 1426.2,459.3 1427.4,459.1 1428.6,459.0 1429.8,458.8 1431.0,458.7 1432.1,458.5 1433.3,458.4 1434.5,458.2 1435.7,458.0 1436.9,457.9 1438.1,457.7 1439.3,457.5 1440.5,457.4 1441.7,457.2 1442.9,457.0 1444.0,456.9 1445.2,456.7 1446.4,456.5 1447.6,456.4 1448.8,456.2 1450.0,456.0 1451.2,455.9 1452.4,455.7 1453.6,455.6 1454.8,455.4 1456.0,455.2 1457.1,455.1 1458.3,455.0 1459.5,454.8 1460.7,454.7 1461.9,454.6 1463.1,454.4 1464.3,454.3 1465.5,454.2 1466.7,454.1 1467.9,454.0 1469.0,453.9 1470.2,453.8 1471.4,453.7 1472.6,453.6 1473.8,453.5 1475.0,453.4 1476.2,453.4 1477.4,453.3 1478.6,453.2 1479.8,453.1 1481.0,453.1 1482.1,453.0 1483.3,452.9 1484.5,452.8 1485.7,452.8 1486.9,452.7 1488.1,452.6 1489.3,452.6 1490.5,452.5 1491.7,452.4 1492.9,452.4 1494.0,452.3 1495.2,452.3 1496.4,452.2 1497.6,452.1 1498.8,452.1 1500.0,452.0 1501.2,452.0 1502.4,451.9 1503.6,451.9 1504.8,451.8 1506.0,451.7 1507.1,451.7 1508.3,451.6 1509.5,451.6 1510.7,451.5 1511.9,451.5 1513.1,451.4 1514.3,451.3 1515.5,451.3 1516.7,451.2 1517.9,451.2 1519.0,451.1 1520.2,451.1 1521.4,451.0 1522.6,451.0 1523.8,450.9 1525.0,450.8 1526.2,450.8 1527.4,450.7 1528.6,450.7 1529.8,450.6 1531.0,450.5 1532.1,450.5 1533.3,450.4 1534.5,450.4 1535.7,450.3 1536.9,450.3 1538.1,450.2 1539.3,450.2 1540.5,450.1 1541.7,450.0 1542.9,450.0 1544.0,449.9 1545.2,449.9 1546.4,449.8 1547.6,449.8 1548.8,449.7 1550.0,449.7 1551.2,449.6 1552.4,449.6 1553.6,449.5 1554.8,449.4 1556.0,449.4 1557.1,449.3 1558.3,449.3 1559.5,449.2 1560.7,449.2 1561.9,449.1 1563.1,449.1 1564.3,449.0 1565.5,449.0 1566.7,448.9 1567.9,448.9 1569.0,448.8 1570.2,448.8 1571.4,448.7 1572.6,448.7 1573.8,448.6 1575.0,448.6 1576.2,448.5 1577.4,448.5 1578.6,448.5 1579.8,448.4 1581.0,448.4 1582.1,448.3 1583.3,448.3 1584.5,448.2 1585.7,448.2 1586.9,448.1 1588.1,448.1 1589.3,448.0 1590.5,448.0 1591.7,448.0 1592.9,447.9 1594.0,447.9 1595.2,447.8 1596.4,447.8 1597.6,447.7 1598.8,447.7 1600.0,447.6 1601.2,447.6 1602.4,447.6 1603.6,447.5 1604.8,447.5 1606.0,447.4 1607.1,447.4 1608.3,447.3 1609.5,447.3 1610.7,447.2 1611.9,447.2 1613.1,447.2 1614.3,447.1 1615.5,447.1 1616.7,447.0 1617.9,447.0 1619.0,446.9 1620.2,446.9 1621.4,446.9 1622.6,446.8 1623.8,446.8 1625.0,446.7 1626.2,446.7 1627.4,446.6 1628.6,446.6 1629.8,446.5 1631.0,446.5 1632.1,446.5 1633.3,446.4 1634.5,446.4 1635.7,446.3 1636.9,446.3 1638.1,446.3 1639.3,446.2 1640.5,446.2 1641.7,446.1 1642.9,446.1 1644.0,446.0 1645.2,446.0 1646.4,446.0 1647.6,445.9 1648.8,445.9 1650.0,445.8 1651.2,445.8 1652.4,445.8 1653.6,445.7 1654.8,445.7 1656.0,445.6 1657.1,445.6 1658.3,445.6 1659.5,445.5 1660.7,445.5 1661.9,445.4 1663.1,445.4 1664.3,445.4 1665.5,445.3 1666.7,445.3 1667.9,445.2 1669.0,445.2 1670.2,445.2 1671.4,445.1 1672.6,445.1 1673.8,445.0 1675.0,445.0 1676.2,445.0 1677.4,444.9 1678.6,444.9 1679.8,444.8 1681.0,444.8 1682.1,444.8 1683.3,444.7 1684.5,444.7 1685.7,444.7 1686.9,444.6 1688.1,444.6 1689.3,444.5 1690.5,444.5 1691.7,444.5 1692.9,444.4 1694.0,444.4 1695.2,444.4 1696.4,444.3 1697.6,444.3 1698.8,444.3 1700.0,444.2 1701.2,444.2 1702.4,444.1 1703.6,444.1 1704.8,444.1 1706.0,444.0 1707.1,444.0 1708.3,444.0 1709.5,443.9 1710.7,443.9 1711.9,443.9 1713.1,443.8 1714.3,443.8 1715.5,443.8 1716.7,443.7 1717.9,443.7 1719.0,443.7 1720.2,443.6 1721.4,443.6 1722.6,443.6 1723.8,443.5 1725.0,443.5 1726.2,443.5 1727.4,443.4 1728.6,443.4 1729.8,443.4 1731.0,443.3 1732.1,443.3 1733.3,443.3 1734.5,443.2 1735.7,443.2 1736.9,443.2 1738.1,443.1 1739.3,443.1 1740.5,443.1 1741.7,443.1 1742.9,443.0 1744.0,443.0 1745.2,443.0 1746.4,442.9 1747.6,442.9 1748.8,442.9 1750.0,442.8 1751.2,442.8 1752.4,442.8 1753.6,442.8 1754.8,442.7 1756.0,442.7 1757.1,442.7 1758.3,442.7 1759.5,442.6 1760.7,442.6 1761.9,442.6 1763.1,442.5 1764.3,442.5 1765.5,442.5 1766.7,442.5 1767.9,442.4 1769.0,442.4 1770.2,442.4 1771.4,442.4 1772.6,442.3 1773.8,442.3 1775.0,442.3" stroke="#0000CC" stroke-width="11.3"/>
</g>
<g fill="#fff" stroke="#000" stroke-width="2.1">
<circle cx="1306.0" cy="438.0" r="12.05"/>
<circle cx="1314.5" cy="413.0" r="12.05"/>
<circle cx="1323.0" cy="389.0" r="12.05"/>
<circle cx="1331.5" cy="360.0" r="12.05"/>
<circle cx="1340.0" cy="331.0" r="12.05"/>
<circle cx="1348.5" cy="303.5" r="12.05"/>
<circle cx="1357.0" cy="275.0" r="12.05"/>
<circle cx="1365.5" cy="245.0" r="12.05"/>
<circle cx="1374.0" cy="215.0" r="12.05"/>
<circle cx="1378.2" cy="200.4" r="12.05"/>
<circle cx="1382.5" cy="185.7" r="12.05"/>
<circle cx="1386.8" cy="171.7" r="12.05"/>
<circle cx="1391.0" cy="160.0" r="12.05"/>
<circle cx="1395.2" cy="150.1" r="12.05"/>
<circle cx="1399.5" cy="141.7" r="12.05"/>
<circle cx="1403.8" cy="134.2" r="12.05"/>
<circle cx="1408.0" cy="127.4" r="12.05"/>
<circle cx="1412.2" cy="121.9" r="12.05"/>
<circle cx="1416.5" cy="116.9" r="12.05"/>
<circle cx="1420.8" cy="111.9" r="12.05"/>
<circle cx="1425.0" cy="107.6" r="12.05"/>
<circle cx="1429.2" cy="104.2" r="12.05"/>
<circle cx="1433.5" cy="101.1" r="12.05"/>
<circle cx="1437.8" cy="98.1" r="12.05"/>
<circle cx="1446.2" cy="93.3" r="12.05"/>
<circle cx="1454.8" cy="89.7" r="12.05"/>
<circle cx="1463.2" cy="86.9" r="12.05"/>
<circle cx="1471.8" cy="84.6" r="12.05"/>
<circle cx="1480.2" cy="82.4" r="12.05"/>
<circle cx="1488.8" cy="80.5" r="12.05"/>
<circle cx="1497.2" cy="79.0" r="12.05"/>
<circle cx="1505.8" cy="77.5" r="12.05"/>
<circle cx="1514.2" cy="76.0" r="12.05"/>
<circle cx="1522.8" cy="74.4" r="12.05"/>
<circle cx="1531.2" cy="72.6" r="12.05"/>
<circle cx="1539.8" cy="71.0" r="12.05"/>
<circle cx="1548.2" cy="69.6" r="12.05"/>
<circle cx="1556.8" cy="68.3" r="12.05"/>
<circle cx="1565.2" cy="67.0" r="12.05"/>
<circle cx="1573.8" cy="65.7" r="12.05"/>
<circle cx="1582.2" cy="64.6" r="12.05"/>
<circle cx="1590.8" cy="63.4" r="12.05"/>
<circle cx="1599.2" cy="62.4" r="12.05"/>
<circle cx="1607.8" cy="61.4" r="12.05"/>
<circle cx="1616.2" cy="60.4" r="12.05"/>
<circle cx="1624.8" cy="59.5" r="12.05"/>
<circle cx="1633.2" cy="58.6" r="12.05"/>
<circle cx="1641.8" cy="57.8" r="12.05"/>
<circle cx="1650.2" cy="57.0" r="12.05"/>
<circle cx="1658.8" cy="56.3" r="12.05"/>
<circle cx="1667.2" cy="55.6" r="12.05"/>
<circle cx="1675.8" cy="54.9" r="12.05"/>
<circle cx="1684.2" cy="54.2" r="12.05"/>
<circle cx="1692.8" cy="53.5" r="12.05"/>
<circle cx="1701.2" cy="52.9" r="12.05"/>
<circle cx="1709.8" cy="52.3" r="12.05"/>
<circle cx="1718.2" cy="51.7" r="12.05"/>
<circle cx="1726.8" cy="51.1" r="12.05"/>
<circle cx="1735.2" cy="50.5" r="12.05"/>
<circle cx="1743.8" cy="50.0" r="12.05"/>
<circle cx="1752.2" cy="49.5" r="12.05"/>
<circle cx="1760.8" cy="49.0" r="12.05"/>
<circle cx="1769.2" cy="48.5" r="12.05"/>
</g>
<g fill="#fff" stroke="#000" stroke-width="2.1">
<circle cx="1306.0" cy="447.6" r="12.05"/>
<circle cx="1314.5" cy="428.9" r="12.05"/>
<circle cx="1323.0" cy="402.7" r="12.05"/>
<circle cx="1331.5" cy="378.0" r="12.05"/>
<circle cx="1340.0" cy="350.4" r="12.05"/>
<circle cx="1348.5" cy="324.1" r="12.05"/>
<circle cx="1357.0" cy="295.5" r="12.05"/>
<circle cx="1365.5" cy="266.0" r="12.05"/>
<circle cx="1374.0" cy="237.7" r="12.05"/>
<circle cx="1382.5" cy="209.1" r="12.05"/>
<circle cx="1391.0" cy="183.3" r="12.05"/>
<circle cx="1399.5" cy="159.4" r="12.05"/>
<circle cx="1408.0" cy="143.0" r="12.05"/>
<circle cx="1416.5" cy="133.0" r="12.05"/>
<circle cx="1425.0" cy="125.0" r="12.05"/>
<circle cx="1433.5" cy="119.0" r="12.05"/>
<circle cx="1442.0" cy="115.0" r="12.05"/>
<circle cx="1450.5" cy="111.6" r="12.05"/>
<circle cx="1459.0" cy="109.7" r="12.05"/>
<circle cx="1467.5" cy="108.3" r="12.05"/>
<circle cx="1476.0" cy="107.1" r="12.05"/>
<circle cx="1484.5" cy="106.2" r="12.05"/>
<circle cx="1493.0" cy="105.3" r="12.05"/>
<circle cx="1501.5" cy="104.6" r="12.05"/>
<circle cx="1510.0" cy="103.9" r="12.05"/>
<circle cx="1518.5" cy="103.3" r="12.05"/>
<circle cx="1527.0" cy="102.7" r="12.05"/>
<circle cx="1535.5" cy="102.0" r="12.05"/>
<circle cx="1544.0" cy="101.4" r="12.05"/>
<circle cx="1552.5" cy="100.7" r="12.05"/>
<circle cx="1561.0" cy="100.0" r="12.05"/>
<circle cx="1569.5" cy="99.2" r="12.05"/>
<circle cx="1578.0" cy="98.5" r="12.05"/>
<circle cx="1586.5" cy="97.8" r="12.05"/>
<circle cx="1595.0" cy="97.1" r="12.05"/>
<circle cx="1603.5" cy="96.5" r="12.05"/>
<circle cx="1612.0" cy="95.9" r="12.05"/>
<circle cx="1620.5" cy="95.5" r="12.05"/>
<circle cx="1629.0" cy="95.1" r="12.05"/>
<circle cx="1637.5" cy="94.7" r="12.05"/>
<circle cx="1646.0" cy="94.3" r="12.05"/>
<circle cx="1654.5" cy="93.9" r="12.05"/>
<circle cx="1663.0" cy="93.6" r="12.05"/>
<circle cx="1671.5" cy="93.3" r="12.05"/>
<circle cx="1680.0" cy="93.1" r="12.05"/>
<circle cx="1688.5" cy="92.8" r="12.05"/>
<circle cx="1697.0" cy="92.6" r="12.05"/>
<circle cx="1705.5" cy="92.4" r="12.05"/>
<circle cx="1714.0" cy="92.2" r="12.05"/>
<circle cx="1722.5" cy="92.0" r="12.05"/>
<circle cx="1731.0" cy="91.8" r="12.05"/>
<circle cx="1739.5" cy="91.7" r="12.05"/>
<circle cx="1748.0" cy="91.5" r="12.05"/>
<circle cx="1756.5" cy="91.4" r="12.05"/>
<circle cx="1765.0" cy="91.3" r="12.05"/>
</g>
<g fill="#fff" stroke="#000" stroke-width="2.1">
<circle cx="1306.0" cy="462.5" r="12.05"/>
<circle cx="1314.5" cy="462.5" r="12.05"/>
<circle cx="1323.0" cy="462.5" r="12.05"/>
<circle cx="1331.5" cy="462.5" r="12.05"/>
<circle cx="1340.0" cy="462.5" r="12.05"/>
<circle cx="1348.5" cy="462.4" r="12.05"/>
<circle cx="1357.0" cy="462.4" r="12.05"/>
<circle cx="1365.5" cy="462.4" r="12.05"/>
<circle cx="1374.0" cy="462.3" r="12.05"/>
<circle cx="1378.2" cy="462.3" r="12.05"/>
<circle cx="1382.5" cy="462.2" r="12.05"/>
<circle cx="1386.8" cy="462.0" r="12.05"/>
<circle cx="1391.0" cy="461.6" r="12.05"/>
<circle cx="1395.2" cy="461.1" r="12.05"/>
<circle cx="1399.5" cy="460.6" r="12.05"/>
<circle cx="1403.8" cy="459.9" r="12.05"/>
<circle cx="1408.0" cy="458.8" r="12.05"/>
<circle cx="1412.2" cy="457.6" r="12.05"/>
<circle cx="1416.5" cy="456.2" r="12.05"/>
<circle cx="1420.8" cy="454.7" r="12.05"/>
<circle cx="1425.0" cy="452.9" r="12.05"/>
<circle cx="1429.2" cy="450.9" r="12.05"/>
<circle cx="1433.5" cy="448.7" r="12.05"/>
<circle cx="1437.8" cy="446.7" r="12.05"/>
<circle cx="1446.2" cy="442.5" r="12.05"/>
<circle cx="1454.8" cy="437.8" r="12.05"/>
<circle cx="1463.2" cy="432.6" r="12.05"/>
<circle cx="1471.8" cy="427.0" r="12.05"/>
<circle cx="1480.2" cy="421.3" r="12.05"/>
<circle cx="1488.8" cy="416.2" r="12.05"/>
<circle cx="1497.2" cy="410.3" r="12.05"/>
<circle cx="1505.8" cy="404.0" r="12.05"/>
<circle cx="1514.2" cy="397.4" r="12.05"/>
<circle cx="1522.8" cy="390.9" r="12.05"/>
<circle cx="1531.2" cy="384.3" r="12.05"/>
<circle cx="1539.8" cy="377.6" r="12.05"/>
<circle cx="1548.2" cy="370.9" r="12.05"/>
<circle cx="1556.8" cy="364.1" r="12.05"/>
<circle cx="1565.2" cy="357.4" r="12.05"/>
<circle cx="1573.8" cy="350.5" r="12.05"/>
<circle cx="1582.2" cy="343.5" r="12.05"/>
<circle cx="1590.8" cy="336.2" r="12.05"/>
<circle cx="1599.2" cy="328.7" r="12.05"/>
<circle cx="1607.8" cy="321.2" r="12.05"/>
<circle cx="1616.2" cy="313.8" r="12.05"/>
<circle cx="1624.8" cy="306.4" r="12.05"/>
<circle cx="1633.2" cy="299.1" r="12.05"/>
<circle cx="1641.8" cy="291.9" r="12.05"/>
<circle cx="1650.2" cy="284.6" r="12.05"/>
<circle cx="1658.8" cy="277.4" r="12.05"/>
<circle cx="1667.2" cy="270.2" r="12.05"/>
<circle cx="1675.8" cy="263.0" r="12.05"/>
<circle cx="1684.2" cy="255.6" r="12.05"/>
<circle cx="1692.8" cy="247.8" r="12.05"/>
<circle cx="1701.2" cy="239.8" r="12.05"/>
<circle cx="1709.8" cy="231.6" r="12.05"/>
<circle cx="1718.2" cy="223.5" r="12.05"/>
<circle cx="1726.8" cy="215.5" r="12.05"/>
<circle cx="1735.2" cy="207.2" r="12.05"/>
<circle cx="1743.8" cy="198.7" r="12.05"/>
<circle cx="1752.2" cy="189.9" r="12.05"/>
<circle cx="1760.8" cy="180.8" r="12.05"/>
<circle cx="1769.2" cy="171.5" r="12.05"/>
</g>
<g fill="#fff" stroke="#000" stroke-width="2.1">
<circle cx="1306.0" cy="462.5" r="12.05"/>
<circle cx="1314.5" cy="462.5" r="12.05"/>
<circle cx="1323.0" cy="462.5" r="12.05"/>
<circle cx="1331.5" cy="462.5" r="12.05"/>
<circle cx="1340.0" cy="462.5" r="12.05"/>
<circle cx="1348.5" cy="462.5" r="12.05"/>
<circle cx="1357.0" cy="462.4" r="12.05"/>
<circle cx="1365.5" cy="462.4" r="12.05"/>
<circle cx="1374.0" cy="462.4" r="12.05"/>
<circle cx="1382.5" cy="462.4" r="12.05"/>
<circle cx="1391.0" cy="462.3" r="12.05"/>
<circle cx="1399.5" cy="462.2" r="12.05"/>
<circle cx="1408.0" cy="461.4" r="12.05"/>
<circle cx="1416.5" cy="460.4" r="12.05"/>
<circle cx="1425.0" cy="459.4" r="12.05"/>
<circle cx="1433.5" cy="458.3" r="12.05"/>
<circle cx="1442.0" cy="457.1" r="12.05"/>
<circle cx="1450.5" cy="456.0" r="12.05"/>
<circle cx="1459.0" cy="454.9" r="12.05"/>
<circle cx="1467.5" cy="454.0" r="12.05"/>
<circle cx="1476.0" cy="453.4" r="12.05"/>
<circle cx="1484.5" cy="452.8" r="12.05"/>
<circle cx="1493.0" cy="452.4" r="12.05"/>
<circle cx="1501.5" cy="451.9" r="12.05"/>
<circle cx="1510.0" cy="451.5" r="12.05"/>
<circle cx="1518.5" cy="451.2" r="12.05"/>
<circle cx="1527.0" cy="450.7" r="12.05"/>
<circle cx="1535.5" cy="450.3" r="12.05"/>
<circle cx="1544.0" cy="449.9" r="12.05"/>
<circle cx="1552.5" cy="449.5" r="12.05"/>
<circle cx="1561.0" cy="449.2" r="12.05"/>
<circle cx="1569.5" cy="448.8" r="12.05"/>
<circle cx="1578.0" cy="448.5" r="12.05"/>
<circle cx="1586.5" cy="448.2" r="12.05"/>
<circle cx="1595.0" cy="447.8" r="12.05"/>
<circle cx="1603.5" cy="447.5" r="12.05"/>
<circle cx="1612.0" cy="447.2" r="12.05"/>
<circle cx="1620.5" cy="446.9" r="12.05"/>
<circle cx="1629.0" cy="446.6" r="12.05"/>
<circle cx="1637.5" cy="446.3" r="12.05"/>
<circle cx="1646.0" cy="446.0" r="12.05"/>
<circle cx="1654.5" cy="445.7" r="12.05"/>
<circle cx="1663.0" cy="445.4" r="12.05"/>
<circle cx="1671.5" cy="445.1" r="12.05"/>
<circle cx="1680.0" cy="444.8" r="12.05"/>
<circle cx="1688.5" cy="444.6" r="12.05"/>
<circle cx="1697.0" cy="444.3" r="12.05"/>
<circle cx="1705.5" cy="444.1" r="12.05"/>
<circle cx="1714.0" cy="443.8" r="12.05"/>
<circle cx="1722.5" cy="443.6" r="12.05"/>
<circle cx="1731.0" cy="443.3" r="12.05"/>
<circle cx="1739.5" cy="443.1" r="12.05"/>
<circle cx="1748.0" cy="442.9" r="12.05"/>
<circle cx="1756.5" cy="442.7" r="12.05"/>
<circle cx="1765.0" cy="442.5" r="12.05"/>
</g>
<rect x="1308" y="21" width="464" height="136.5" fill="#fff" fill-opacity="0.5"/>
<circle cx="1359.6" cy="44.8" r="5.9" fill="#fff" stroke="#000" stroke-width="1.6"/>
<line x1="1339" y1="90.4" x2="1381.7" y2="90.4" stroke="#FF0000" stroke-width="11.3" stroke-linecap="round"/>
<line x1="1339" y1="134.8" x2="1381.7" y2="134.8" stroke="#0000CC" stroke-width="11.3" stroke-linecap="round"/>
<text transform="translate(1387.00 52.30) scale(1 1.04)" font-size="26.6" text-anchor="start">TCAD Process - TCAD Device</text>
<text transform="translate(1387.00 97.00) scale(1 1.04)" font-size="26.6" text-anchor="start">TCAD Process - RTT Device</text>
<text transform="translate(1387.00 140.90) scale(1 1.04)" font-size="26.6" text-anchor="start">RTT Process - RTT Device</text>
<text transform="translate(1253.00 28.50) scale(1 0.925)" font-size="35.3" text-anchor="start">(c)</text>
<text transform="translate(1538.00 526.00) scale(1 1.04)" font-size="35.3" text-anchor="middle">Gate Voltage [a.u.]</text>
<text transform="translate(1290.50 242.00) rotate(-90) scale(1 1.04)" font-size="35.3" text-anchor="middle">Drain current [a.u.]</text>
<text transform="translate(1811.30 242.00) rotate(-90) scale(1 1.04)" font-size="35.3" text-anchor="middle">Drain current [a.u.]</text>
</svg>
</body></html>
